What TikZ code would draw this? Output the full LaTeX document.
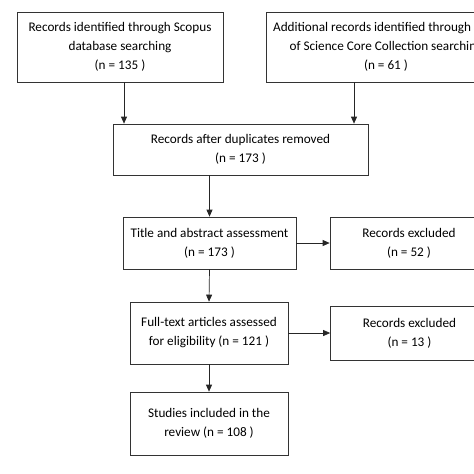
\documentclass[tikz,border=0pt]{standalone}
\usepackage{fontspec}
\setmainfont{Carlito}
\usetikzlibrary{arrows.meta}

\begin{document}
\begin{tikzpicture}[x=1pt, y=-1pt, font=\fontsize{13.2}{19}\selectfont,
    box/.style={draw=black!80, line width=0.7pt, align=center, inner sep=0pt},
    arr/.style={draw=black!85, line width=0.7pt, -{Triangle[length=7pt,width=6pt]}}]

      % page frame (clips the boxes that run off the right side)
      \useasboundingbox (0,0) rectangle (474,474);
      \clip (0,0) rectangle (474,474);

      % Identification
      \node[box, minimum width=206pt, minimum height=70pt] (scopus) at (120,47)
        {Records identified through Scopus\\database searching\\(n = 135 )};
      \node[box, minimum width=240pt, minimum height=70pt] (wos) at (386,47)
        {Additional records identified through Web\\of Science Core Collection searching\\(n = 61 )};

      % Screening
      \node[box, minimum width=255pt, minimum height=51pt] (dup) at (240.5,149.5)
        {Records after duplicates removed\\(n = 173 )};
      \node[box, minimum width=173pt, minimum height=52pt] (tit) at (209.5,243)
        {Title and abstract assessment\\(n = 173 )};
      \node[box, minimum width=158pt, minimum height=52pt] (exclA) at (409,243)
        {Records excluded\\(n = 52 )};

      % Eligibility
      \node[box, minimum width=158pt, minimum height=62pt] (full) at (209,333)
        {Full-text articles assessed\\for eligibility (n = 121 )};
      \node[box, minimum width=158pt, minimum height=54pt] (exclB) at (409.5,333)
        {Records excluded\\(n = 13 )};

      % Included
      \node[box, minimum width=158pt, minimum height=63pt] (incl) at (209,423.5)
        {Studies included in the\\review (n = 108 )};

      % connectors
      \draw[arr] ([xshift=4pt]scopus.south) -- ([xshift=4pt]scopus.south |- dup.north);
      \draw[arr] ([xshift=-32pt]wos.south) -- ([xshift=-32pt]wos.south |- dup.north);
      \draw[arr] (dup.south -| tit.north) -- (tit.north);
      \draw[arr] (tit.east) -- (exclA.west);
      \draw[arr] (tit.south) -- (full.north);
      \draw[arr] (full.east) -- (exclB.west);
      \draw[arr] (full.south) -- (incl.north);

    \end{tikzpicture}
\end{document}
